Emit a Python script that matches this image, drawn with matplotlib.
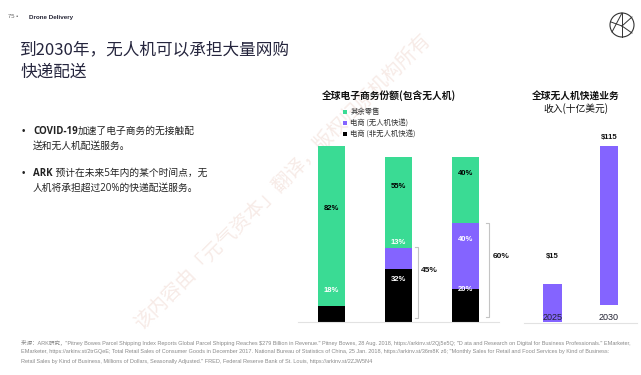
import numpy as np
import matplotlib
matplotlib.use('Agg')
import matplotlib.pyplot as plt
from matplotlib.patches import Circle

plt.rcParams['font.family'] = ['Liberation Sans', 'Noto Sans CJK SC', 'DejaVu Sans']

# ---- data ----
share_years = ['now', 'mid', '2030']
share_other = [96.8, 55, 40]        # green segment (as drawn)
share_drone = [0, 13, 40]           # purple segment
share_nondrone = [9.9, 32, 20]      # black segment (as drawn)
label_other = ['82%', '55%', '40%']
label_drone = ['', '13%', '40%']
label_nondrone = ['18%', '32%', '20%']
bracket_labels = ['45%', '60%']

rev_years = ['2025', '2030']
rev_values = [15, 115]
rev_labels = ['$15', '$115']

legend_names = ['其余零售', '电商 (无人机快递)', '电商 (非无人机快递)']

GREEN = '#3ADB94'
PURPLE = '#8464FF'
BLACK = '#000000'
CJK = ['Noto Sans CJK SC', 'DejaVu Sans']
LAT = ['Liberation Sans', 'Noto Sans CJK SC', 'DejaVu Sans']

fig = plt.figure(figsize=(6.41, 3.75), dpi=100)

# background axes in pixel coords for the slide texts
bg = fig.add_axes([0, 0, 1, 1])
bg.set_xlim(0, 641)
bg.set_ylim(375, 0)
bg.axis('off')

def px_axes(x0, x1, y_top, y_bot):
    return fig.add_axes([x0 / 641, (375 - y_bot) / 375, (x1 - x0) / 641, (y_bot - y_top) / 375])

# ---- left chart: share of e-commerce ----
ax = px_axes(298, 499, 140.5, 322)
ax.set_facecolor('none')
x = np.arange(len(share_years))
w = 0.40
ax.bar(x, share_nondrone, w, color=BLACK, zorder=2)
ax.bar(x, share_drone, w, bottom=share_nondrone, color=PURPLE, zorder=2)
ax.bar(x, share_other, w, bottom=np.add(share_nondrone, share_drone), color=GREEN, zorder=2)
ax.set_xlim(-0.5, 2.5)
ax.set_ylim(0, 110)

y_other = [68.5, 82, 90.3]
y_drone = [0, 47.9, 50.3]
y_non = [18.8, 25.5, 19.6]
for i in range(3):
    ax.text(x[i], y_other[i], label_other[i], ha='center', va='center', fontsize=5.5,
            fontweight='bold', color='black', zorder=3)
    if label_drone[i]:
        ax.text(x[i], y_drone[i], label_drone[i], ha='center', va='center', fontsize=5.5,
                fontweight='bold', color='white', zorder=3)
    ax.text(x[i], y_non[i], label_nondrone[i], ha='center', va='center', fontsize=5.5,
            fontweight='bold', color='white', zorder=3)

# brackets for drone+non-drone e-commerce
br_x = [1.29, 2.35]
br_top = [45.5, 60.2]
br_bot = [2.4, 3.0]
br_ty = [31, 40]
for k in range(2):
    bx = br_x[k]
    ax.plot([bx - 0.05, bx, bx, bx - 0.05], [br_top[k], br_top[k], br_bot[k], br_bot[k]],
            color='#c4c4c4', lw=0.8, clip_on=False)
    ax.text(bx + 0.05, br_ty[k], bracket_labels[k], ha='left', va='center', fontsize=6,
            fontweight='bold', color='#111111')

for s in ['top', 'right', 'left']:
    ax.spines[s].set_visible(False)
ax.spines['bottom'].set_color('#e2e2e2')
ax.spines['bottom'].set_linewidth(0.8)
ax.set_xticks([])
ax.set_yticks([])

# ---- right chart: drone delivery revenue ----
ax2 = px_axes(524.25, 637.25, 129.4, 323)
ax2.set_facecolor('none')
xr = np.arange(len(rev_years))
base = [-12.3, 0]
ax2.bar(xr, np.subtract(rev_values, base), 0.32, bottom=base, color=PURPLE, zorder=2)
ax2.set_xlim(-0.5, 1.5)
ax2.set_ylim(-13, 127)
lab_y = [35.4, 121.5]
for i in range(2):
    ax2.text(xr[i], lab_y[i], rev_labels[i], ha='center', va='center', fontsize=5.5,
             fontweight='bold', color='#111111')
    ax2.text(xr[i], -8.7, rev_years[i], ha='center', va='center', fontsize=6.5,
             color='#222233', zorder=3)
for s in ['top', 'right', 'left']:
    ax2.spines[s].set_visible(False)
ax2.spines['bottom'].set_color('#e2e2e2')
ax2.spines['bottom'].set_linewidth(0.8)
ax2.set_xticks([])
ax2.set_yticks([])

# ---- chart titles and legend ----
bg.text(322, 96, '全球电子商务份额(包含无人机)', fontsize=7, fontweight='bold',
        family=CJK, ha='left', va='center', color='#111111')
for i, (name, c) in enumerate(zip(legend_names, [GREEN, PURPLE, BLACK])):
    yy = 112 + i * 11.2
    bg.scatter([344.5], [yy], marker='s', s=5, color=c, linewidths=0)
    bg.text(350.5, yy, name, fontsize=5.3, family=CJK, ha='left', va='center', color='#333333')
bg.text(576, 97, '全球无人机快递业务', fontsize=7, fontweight='bold', family=CJK,
        ha='center', va='center', color='#111111')
bg.text(576, 109, '收入(十亿美元)', fontsize=7, family=CJK, ha='center', va='center',
        color='#111111')

# ---- watermark ----
bg.text(282, 182, '该内容由「元气资本」翻译，版权归原机构所有', fontsize=14, family=CJK,
        rotation=45, rotation_mode='anchor', ha='center', va='center', color='#f7ebe7',
        zorder=0)

# ---- slide header ----
bg.text(8, 17, '75 •', fontsize=4.2, color='#666666', va='center', ha='left')
bg.text(29, 17, 'Drone Delivery', fontsize=4.5, fontweight='bold', color='#222233',
        va='center', ha='left')
bg.text(20, 50, '到2030年，无人机可以承担大量网购', fontsize=12, family=CJK, color='#25253d',
        va='center', ha='left')
bg.text(20, 72, '快递配送', fontsize=12, family=CJK, color='#25253d', va='center', ha='left')

# ---- bullets ----
BUL = ['Open Sans', 'Noto Sans CJK SC', 'DejaVu Sans']
FS = 7.0
def rich(xx, yy, parts):
    t = bg.text(xx, yy, parts[0][0], fontweight=parts[0][1], family=BUL, fontsize=FS,
                color='#222222', va='bottom', ha='left')
    for s, wgt in parts[1:]:
        t = bg.annotate(s, xycoords=t, xy=(1, 0), va='bottom', ha='left', fontweight=wgt,
                        family=BUL, fontsize=FS, color='#222222')

bg.text(22, 131, '•', fontsize=FS, va='center', ha='left', color='#222222')
rich(33, 136.5, [('COVID-19', 'bold'), ('加速了电子商务的无接触配', 'normal')])
rich(33, 151.5, [('送和无人机配送服务。', 'normal')])
bg.text(22, 173, '•', fontsize=FS, va='center', ha='left', color='#222222')
rich(33, 178.5, [('ARK', 'bold'), (' 预计在未来5年内的某个时间点，无', 'normal')])
rich(33, 193.5, [('人机将承担超过20%的快递配送服务。', 'normal')])

# ---- logo ----
bg.add_patch(Circle((622, 25), 12, fill=False, lw=0.8, ec='#333333'))
bg.plot([612, 622], [32, 13], color='#333333', lw=0.7)
bg.plot([622, 622], [13, 37], color='#333333', lw=0.7)
bg.plot([622, 632], [26, 17], color='#333333', lw=0.7)
bg.plot([622, 632], [26, 33], color='#333333', lw=0.7)
bg.plot([611, 622], [22, 26], color='#333333', lw=0.7)

# ---- footnote ----
foot = [
    '来源：ARK研究，"Pitney Bowes Parcel Shipping Index Reports Global Parcel Shipping Reaches $279 Billion in Revenue." '
    'Pitney Bowes, 28 Aug. 2018, https://arkinv.st/2Qj5e5Q; "D ata and Research on Digital for Business Professionals." EMarketer,',
    'EMarketer, https://arkinv.st/2trGQeE; Total Retail Sales of Consumer Goods in December 2017. National Bureau of Statistics '
    'of China, 25 Jan. 2018, https://arkinv.st/36m8K z6; "Monthly Sales for Retail and Food Services by Kind of Business:',
    'Retail Sales by Kind of Business, Millions of Dollars, Seasonally Adjusted." FRED, Federal Reserve Bank of St. Louis, '
    'https://arkinv.st/2ZJW5N4',
]
for i, line in enumerate(foot):
    bg.text(21, 343 + i * 9, line, fontsize=4.0, family=LAT, color='#8a8a8a', va='center', ha='left')

plt.savefig('out.png', dpi=100)
